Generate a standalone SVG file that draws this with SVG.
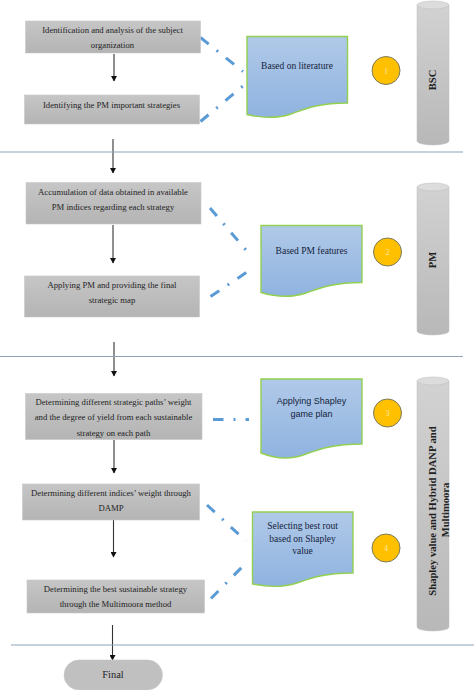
<svg xmlns="http://www.w3.org/2000/svg" width="474" height="690" viewBox="0 0 474 690">
<style>
text{font-family:"Liberation Serif","Times New Roman",serif;fill:#1f1f1f;text-anchor:middle}
.t{font-size:8.7px}
.d{font-size:9.5px;fill:#14233c}
.c{font-size:10.6px;font-weight:bold}
.n{font-size:8px;fill:#ffe9a8}
.box{fill:url(#g);stroke:#c8c8c8;stroke-width:.6}
.doc{fill:url(#b);stroke:#92d050;stroke-width:1.4}
.dot{fill:#ffc000;stroke:#7a7a60;stroke-width:1}
.cyl{fill:url(#cy);stroke:#bdbdbd;stroke-width:.5}
.top{fill:#dcdcdc;stroke:#bdbdbd;stroke-width:.5}
.a{stroke:#333;stroke-width:1.1;fill:none;marker-end:url(#m)}
.dd{stroke:#5b9bd5;stroke-width:3;fill:none;stroke-dasharray:10.500 10 2 10}
.hr{stroke:#8fa3b8;stroke-width:1.2;fill:none}
</style>
<defs>
<linearGradient id="g" x1="0" y1="0" x2="0" y2="1"><stop offset="0" stop-color="#c6c6c6"/><stop offset="1" stop-color="#b4b4b4"/></linearGradient>
<linearGradient id="b" x1="0" y1="0" x2="0" y2="1"><stop offset="0" stop-color="#b0c9e8"/><stop offset="1" stop-color="#8fb3e0"/></linearGradient>
<linearGradient id="cy" x1="0" y1="0" x2="0" y2="1"><stop offset="0" stop-color="#d2d2d2"/><stop offset="1" stop-color="#b8b8b8"/></linearGradient>
<marker id="m" markerWidth="6" markerHeight="6" refX="5" refY="3" orient="auto" markerUnits="userSpaceOnUse"><path d="M0 0L5.500 3L0 6Z" fill="#111"/></marker>
</defs>
<g id="connectors">
<path class="a" d="M114 54V81"/>
<path class="a" d="M113 139V173"/>
<path class="a" d="M113 225V263"/>
<path class="a" d="M114 342V376"/>
<path class="a" d="M114 440V473"/>
<path class="a" d="M113.500 520V557"/>
<path class="a" d="M112.500 625V660"/>
<path class="dd" d="M200.500 37.500L243 71.500"/>
<path class="dd" d="M200.500 121.500L243 86"/>
<path class="dd" d="M210 208L246 250"/>
<path class="dd" d="M210.500 296.500L247 272"/>
<path class="dd" d="M213 419.500L249 419.500"/>
<path class="dd" d="M207 505L246 541"/>
<path class="dd" d="M211 598.500L248 561"/>
<path class="hr" d="M0 152H463"/>
<path class="hr" d="M0 356.500H463"/>
<path class="hr" d="M11 645H474"/>
</g>
<g id="n1"><rect class="box" x="25.500" y="21" width="175" height="32"/><text class="t" x="112.500" y="33">Identification and analysis of the subject</text><text class="t" x="112.500" y="48">organization</text></g>
<g id="n2"><rect class="box" x="24.500" y="95" width="175" height="29"/><text class="t" x="111.500" y="107.500">Identifying the PM important strategies</text></g>
<g id="n3"><rect class="box" x="26" y="182.500" width="175" height="41.500"/><text class="t" x="113" y="194.500">Accumulation of data obtained in available</text><text class="t" x="113" y="209.500">PM indices regarding each strategy</text></g>
<g id="n4"><rect class="box" x="24.500" y="276" width="175" height="41"/><text class="t" x="112" y="288">Applying PM and providing the final</text><text class="t" x="112" y="303">strategic map</text></g>
<g id="n5"><rect class="box" x="25.500" y="393.500" width="176.500" height="46"/><text class="t" x="113.500" y="405">Determining different strategic paths’ weight</text><text class="t" x="113.500" y="420">and the degree of yield from each sustainable</text><text class="t" x="113.500" y="435.500">strategy on each path</text></g>
<g id="n6"><rect class="box" x="22.500" y="484" width="177" height="36"/><text class="t" x="111" y="496">Determining different indices’ weight through</text><text class="t" x="111" y="511">DAMP</text></g>
<g id="n7"><rect class="box" x="27" y="580" width="177.500" height="33"/><text class="t" x="115.500" y="592">Determining the best  sustainable strategy</text><text class="t" x="115.500" y="607">through the Multimoora method</text></g>
<g id="final"><rect x="64" y="660" width="98.500" height="30" rx="15" fill="#c0c0c0" stroke="#c8c8c8" stroke-width=".6"/><text x="113" y="678" style="font-size:10.500px">Final</text></g>
<g id="doc1"><path class="doc" d="M247 36.500H347.500V103C318 103 305 109 291 114C276 119 262 118 247 114.500Z"/><text class="d" x="297" y="69">Based on literature</text></g>
<g id="doc2"><path class="doc" d="M261 225.500H362V282.500C333 282.500 320 288 306 293C291 298 276 297 261 292.500Z"/><text class="d" x="311.500" y="254">Based PM features</text></g>
<g id="doc3"><path class="doc" d="M261 379H362V444C333 444 320 449 306 454C291 460 276 459 261 453Z"/><text class="d" x="311.500" y="404" style="font-family:'Liberation Sans',sans-serif;font-size:9px">Applying Shapley</text><text class="d" x="311.500" y="417" style="font-family:'Liberation Sans',sans-serif;font-size:9px">game plan</text></g>
<g id="doc4"><path class="doc" d="M252.500 512H353V573C324 573 311 578 297 583C282 588 267 587 252.500 584Z"/><text class="d" x="302.500" y="529">Selecting best rout</text><text class="d" x="302.500" y="541.500">based on Shapley</text><text class="d" x="302.500" y="554">value</text></g>
<g id="c1"><circle class="dot" cx="386" cy="70.500" r="14"/><text class="n" x="386" y="73.500">1</text></g>
<g id="c2"><circle class="dot" cx="387.500" cy="252" r="14"/><text class="n" x="387.500" y="255">2</text></g>
<g id="c3"><circle class="dot" cx="387.500" cy="413" r="14"/><text class="n" x="387.500" y="416">3</text></g>
<g id="c4"><circle class="dot" cx="386" cy="548" r="14"/><text class="n" x="386" y="551">4</text></g>
<g id="cyl1"><path class="cyl" d="M417 5V141A16 4 0 0 0 449 141V5Z"/><ellipse class="top" cx="433" cy="5" rx="16" ry="4"/><text class="c" transform="translate(436,80) rotate(-90)">BSC</text></g>
<g id="cyl2"><path class="cyl" d="M417 187V331A16 4 0 0 0 449 331V187Z"/><ellipse class="top" cx="433" cy="187" rx="16" ry="4"/><text class="c" transform="translate(436,260) rotate(-90)">PM</text></g>
<g id="cyl3"><path class="cyl" d="M417 381V627A16 4 0 0 0 449 627V381Z"/><ellipse class="top" cx="433" cy="381" rx="16" ry="4"/><text class="c" transform="translate(436,511) rotate(-90)">Shapley value and Hybrid DANP and</text><text class="c" transform="translate(449,510) rotate(-90)">Multimoora</text></g>
</svg>
